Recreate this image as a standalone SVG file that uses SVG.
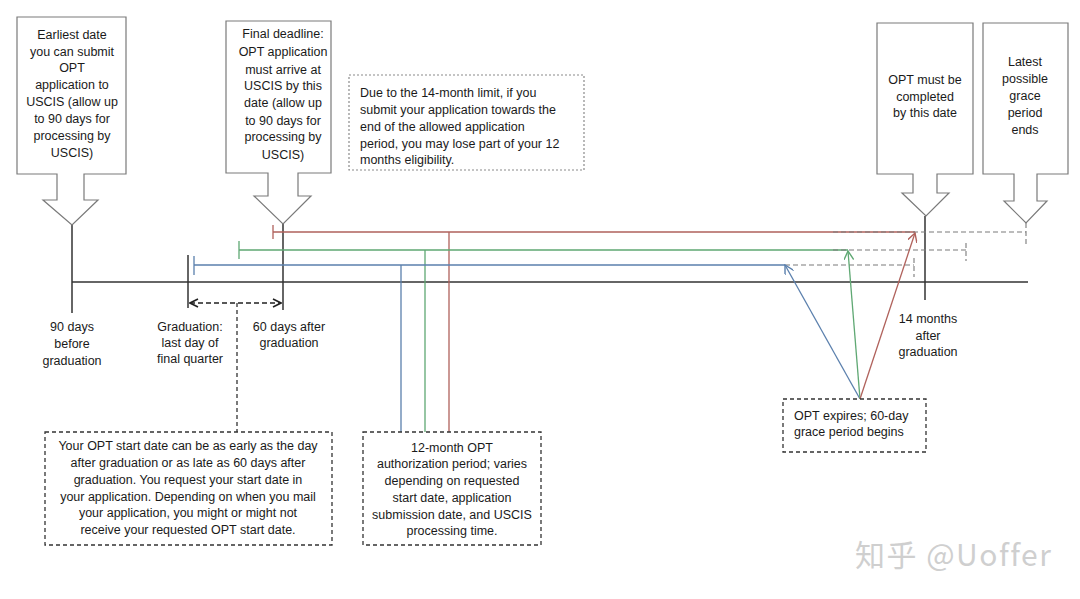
<svg xmlns="http://www.w3.org/2000/svg" width="1080" height="599" viewBox="0 0 1080 599">
<style>
  text { font-family: "Liberation Sans", Arial, sans-serif; font-size: 12.5px; fill: #1a1a1a; }
  .c { text-anchor: middle; }
  .callout { fill: #ffffff; stroke: #7a7a7a; stroke-width: 1.2; }
  .axis { stroke: #333333; stroke-width: 1.5; fill: none; }
  .red { stroke: #b0625c; stroke-width: 1.3; fill: none; }
  .green { stroke: #5fa873; stroke-width: 1.3; fill: none; }
  .blue { stroke: #5b80ad; stroke-width: 1.3; fill: none; }
  .gdash { stroke: #7a7a7a; stroke-width: 1.1; stroke-dasharray: 5 3; fill: none; }
  .bdash { fill: #ffffff; stroke: #333333; stroke-width: 1.3; stroke-dasharray: 4 3; }
  .dotbox { fill: #ffffff; stroke: #8a8a8a; stroke-width: 1.2; stroke-dasharray: 2 2; }
  .wm { font-family: "Noto Sans CJK SC", "Noto Sans", sans-serif; font-size: 30px; letter-spacing: 1.5px; fill: #cfcfcf; }
</style>
<defs>
  <marker id="arrR" viewBox="0 0 10 10" refX="9" refY="5" markerWidth="10" markerHeight="10" markerUnits="userSpaceOnUse" orient="auto">
    <path d="M0,0 L9,5 L0,10" fill="none" stroke="#b0625c" stroke-width="1.4"/>
  </marker>
  <marker id="arrG" viewBox="0 0 10 10" refX="9" refY="5" markerWidth="10" markerHeight="10" markerUnits="userSpaceOnUse" orient="auto">
    <path d="M0,0 L9,5 L0,10" fill="none" stroke="#5fa873" stroke-width="1.4"/>
  </marker>
  <marker id="arrB" viewBox="0 0 10 10" refX="9" refY="5" markerWidth="10" markerHeight="10" markerUnits="userSpaceOnUse" orient="auto">
    <path d="M0,0 L9,5 L0,10" fill="none" stroke="#5b80ad" stroke-width="1.4"/>
  </marker>
  <marker id="chev" viewBox="0 0 10 10" refX="9" refY="5" markerWidth="10" markerHeight="10" markerUnits="userSpaceOnUse" orient="auto-start-reverse">
    <path d="M1,1 L9,5 L1,9" fill="none" stroke="#222222" stroke-width="1.6"/>
  </marker>
</defs>
<rect width="1080" height="599" fill="#ffffff"/>

<g id="connectors">
  <path class="axis" d="M72,282 H1028"/>
  <path class="axis" d="M72,225 V313"/>
  <path class="axis" d="M283,224 V310"/>
  <path class="axis" d="M188,255 V308"/>
  <path class="axis" d="M925,216 V300"/>
  <path class="red" d="M273,225 V239 M273,232 H915 M449,232 V432"/>
  <path class="green" d="M239,241 V259 M239,250 H848 M425,250 V432"/>
  <path class="blue" d="M194,256 V275 M194,265 H785 M401,265 V432"/>
  <path class="gdash" d="M833,232 H1026 M1026,223 V247"/>
  <path class="gdash" d="M833,250 H966 M966,243 V261"/>
  <path class="gdash" d="M785,265 H914 M914,258 V277"/>
  <path class="blue" d="M860,399 L785,265" marker-end="url(#arrB)"/>
  <path class="green" d="M860,399 L848,251" marker-end="url(#arrG)"/>
  <path class="red" d="M860,399 L915,233" marker-end="url(#arrR)"/>
  <path d="M190,303 H281" fill="none" stroke="#222222" stroke-width="1.5" stroke-dasharray="5 3" marker-start="url(#chev)" marker-end="url(#chev)"/>
  <path d="M237,303 V432" fill="none" stroke="#333333" stroke-width="1.3" stroke-dasharray="4 3"/>
</g>

<g id="callout-earliest">
  <path class="callout" d="M17,17 H126 V174 H84 V200 H98 L72,225 L43,200 H57 V174 H17 Z"/>
  <text class="c" x="72" y="38.5">Earliest date</text>
  <text class="c" x="72" y="55.5">you can submit</text>
  <text class="c" x="72" y="72">OPT</text>
  <text class="c" x="72" y="89">application to</text>
  <text class="c" x="72" y="105.5">USCIS (allow up</text>
  <text class="c" x="72" y="123">to 90 days for</text>
  <text class="c" x="72" y="139.5">processing by</text>
  <text class="c" x="72" y="157">USCIS)</text>
</g>

<g id="callout-deadline">
  <path class="callout" d="M226,21 H331 V173 H298 V196 H311 L283,224 L254,196 H268 V173 H226 Z"/>
  <text class="c" x="283" y="38">Final deadline:</text>
  <text class="c" x="283" y="56">OPT application</text>
  <text class="c" x="283" y="73.5">must arrive at</text>
  <text class="c" x="283" y="90">USCIS by this</text>
  <text class="c" x="283" y="107">date (allow up</text>
  <text class="c" x="283" y="124.5">to 90 days for</text>
  <text class="c" x="283" y="141">processing by</text>
  <text class="c" x="283" y="158.5">USCIS)</text>
</g>

<g id="note-14month">
  <rect class="dotbox" x="349" y="75" width="235" height="95"/>
  <text x="360" y="96.5">Due to the 14-month limit, if you</text>
  <text x="360" y="114">submit your application towards the</text>
  <text x="360" y="131">end of the allowed application</text>
  <text x="360" y="147.5">period, you may lose part of your 12</text>
  <text x="360" y="164">months eligibility.</text>
</g>

<g id="callout-completed">
  <path class="callout" d="M877,23 H973 V174 H937 V193 H949 L926,216 L902,193 H913 V174 H877 Z"/>
  <text class="c" x="925" y="84">OPT must be</text>
  <text class="c" x="925" y="100.5">completed</text>
  <text class="c" x="925" y="117">by this date</text>
</g>

<g id="callout-grace">
  <path class="callout" d="M983,23 H1068 V174 H1037 V201 H1047 L1026,223 L1004,201 H1014 V174 H983 Z"/>
  <text class="c" x="1025" y="66">Latest</text>
  <text class="c" x="1025" y="83">possible</text>
  <text class="c" x="1025" y="100">grace</text>
  <text class="c" x="1025" y="117">period</text>
  <text class="c" x="1025" y="133.5">ends</text>
</g>

<g id="label-90days">
  <text class="c" x="72" y="331">90 days</text>
  <text class="c" x="72" y="348">before</text>
  <text class="c" x="72" y="365">graduation</text>
</g>

<g id="label-graduation">
  <text class="c" x="190" y="331">Graduation:</text>
  <text class="c" x="190" y="346.5">last day of</text>
  <text class="c" x="190" y="362.5">final quarter</text>
</g>

<g id="label-60days">
  <text class="c" x="289" y="331">60 days after</text>
  <text class="c" x="289" y="347">graduation</text>
</g>

<g id="label-14months">
  <text class="c" x="928" y="322.5">14 months</text>
  <text class="c" x="928" y="339.5">after</text>
  <text class="c" x="928" y="356">graduation</text>
</g>

<g id="box-expires">
  <rect class="bdash" x="783" y="399" width="143" height="53"/>
  <text x="794" y="419.5">OPT expires; 60-day</text>
  <text x="794" y="435.5">grace period begins</text>
</g>

<g id="box-startdate">
  <rect class="bdash" x="45" y="432" width="287" height="113"/>
  <text class="c" x="188" y="449.5">Your OPT start date can be as early as the day</text>
  <text class="c" x="188" y="466.5">after graduation or as late as 60 days after</text>
  <text class="c" x="188" y="483.5">graduation. You request your start date in</text>
  <text class="c" x="188" y="500.5">your application. Depending on when you mail</text>
  <text class="c" x="188" y="517">your application, you might or might not</text>
  <text class="c" x="188" y="533.5">receive your requested OPT start date.</text>
</g>

<g id="box-12month">
  <rect class="bdash" x="363" y="432" width="178" height="113"/>
  <text class="c" x="452" y="451.5">12-month OPT</text>
  <text class="c" x="452" y="468">authorization period; varies</text>
  <text class="c" x="452" y="485">depending on requested</text>
  <text class="c" x="452" y="501.5">start date, application</text>
  <text class="c" x="452" y="518.5">submission date, and USCIS</text>
  <text class="c" x="452" y="535">processing time.</text>
</g>

<text class="wm" x="855" y="566">知乎 @Uoffer</text>
</svg>
